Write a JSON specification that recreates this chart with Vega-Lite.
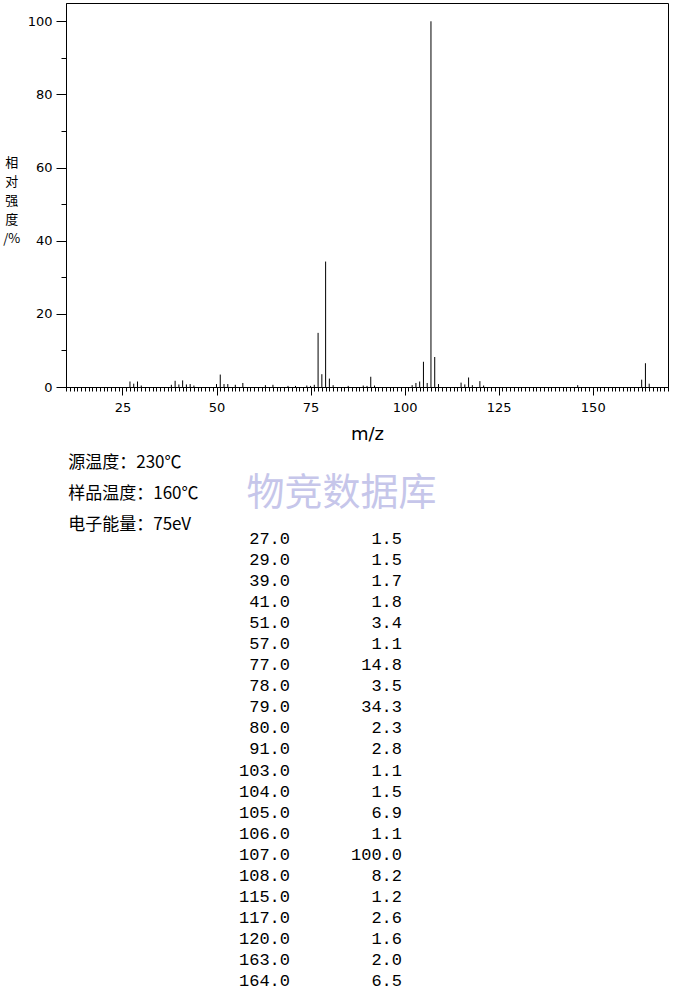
{
  "$schema": "https://vega.github.io/schema/vega-lite/v6.json",
  "padding": {"left": 2, "top": 2, "right": 5, "bottom": 3},
  "spacing": 14,
  "bounds": "flush",
  "datasets": {
    "spectrum": [
      {"mz": 27, "intensity": 1.5, "listed": true},
      {"mz": 28, "intensity": 0.9, "listed": false},
      {"mz": 29, "intensity": 1.5, "listed": true},
      {"mz": 30, "intensity": 0.4, "listed": false},
      {"mz": 38, "intensity": 0.6, "listed": false},
      {"mz": 39, "intensity": 1.7, "listed": true},
      {"mz": 40, "intensity": 0.7, "listed": false},
      {"mz": 41, "intensity": 1.8, "listed": true},
      {"mz": 42, "intensity": 0.7, "listed": false},
      {"mz": 43, "intensity": 0.8, "listed": false},
      {"mz": 44, "intensity": 0.4, "listed": false},
      {"mz": 50, "intensity": 0.8, "listed": false},
      {"mz": 51, "intensity": 3.4, "listed": true},
      {"mz": 52, "intensity": 0.8, "listed": false},
      {"mz": 53, "intensity": 0.8, "listed": false},
      {"mz": 55, "intensity": 0.6, "listed": false},
      {"mz": 57, "intensity": 1.1, "listed": true},
      {"mz": 63, "intensity": 0.5, "listed": false},
      {"mz": 65, "intensity": 0.6, "listed": false},
      {"mz": 69, "intensity": 0.3, "listed": false},
      {"mz": 71, "intensity": 0.3, "listed": false},
      {"mz": 74, "intensity": 0.4, "listed": false},
      {"mz": 75, "intensity": 0.3, "listed": false},
      {"mz": 76, "intensity": 0.6, "listed": false},
      {"mz": 77, "intensity": 14.8, "listed": true},
      {"mz": 78, "intensity": 3.5, "listed": true},
      {"mz": 79, "intensity": 34.3, "listed": true},
      {"mz": 80, "intensity": 2.3, "listed": true},
      {"mz": 81, "intensity": 0.5, "listed": false},
      {"mz": 85, "intensity": 0.3, "listed": false},
      {"mz": 89, "intensity": 0.4, "listed": false},
      {"mz": 90, "intensity": 0.3, "listed": false},
      {"mz": 91, "intensity": 2.8, "listed": true},
      {"mz": 92, "intensity": 0.4, "listed": false},
      {"mz": 102, "intensity": 0.5, "listed": false},
      {"mz": 103, "intensity": 1.1, "listed": true},
      {"mz": 104, "intensity": 1.5, "listed": true},
      {"mz": 105, "intensity": 6.9, "listed": true},
      {"mz": 106, "intensity": 1.1, "listed": true},
      {"mz": 107, "intensity": 100.0, "listed": true},
      {"mz": 108, "intensity": 8.2, "listed": true},
      {"mz": 109, "intensity": 0.8, "listed": false},
      {"mz": 115, "intensity": 1.2, "listed": true},
      {"mz": 116, "intensity": 0.7, "listed": false},
      {"mz": 117, "intensity": 2.6, "listed": true},
      {"mz": 118, "intensity": 0.5, "listed": false},
      {"mz": 120, "intensity": 1.6, "listed": true},
      {"mz": 121, "intensity": 0.4, "listed": false},
      {"mz": 146, "intensity": 0.5, "listed": false},
      {"mz": 163, "intensity": 2.0, "listed": true},
      {"mz": 164, "intensity": 6.5, "listed": true},
      {"mz": 165, "intensity": 0.9, "listed": false}
    ],
    "conditions": [
      {"line": 1, "col": "info", "kind": "condition", "text": "源温度：230℃"},
      {"line": 2, "col": "info", "kind": "condition", "text": "样品温度：160℃"},
      {"line": 3, "col": "info", "kind": "condition", "text": "电子能量：75eV"},
      {"line": 2, "col": "intensity", "kind": "watermark", "text": "物竞数据库"}
    ]
  },
  "vconcat": [
    {
      "width": 602,
      "height": 384,
      "data": {"name": "spectrum"},
      "mark": {"type": "rule", "color": "black", "strokeWidth": 1},
      "encoding": {
        "x": {
          "field": "mz",
          "type": "quantitative",
          "scale": {"domain": [10, 170], "nice": false, "zero": false},
          "axis": {
            "title": "m/z",
            "titleFontSize": 18,
            "titlePadding": 11,
            "values": [10,11,12,13,14,15,16,17,18,19,20,21,22,23,24,25,26,27,28,29,30,31,32,33,34,35,36,37,38,39,40,41,42,43,44,45,46,47,48,49,50,51,52,53,54,55,56,57,58,59,60,61,62,63,64,65,66,67,68,69,70,71,72,73,74,75,76,77,78,79,80,81,82,83,84,85,86,87,88,89,90,91,92,93,94,95,96,97,98,99,100,101,102,103,104,105,106,107,108,109,110,111,112,113,114,115,116,117,118,119,120,121,122,123,124,125,126,127,128,129,130,131,132,133,134,135,136,137,138,139,140,141,142,143,144,145,146,147,148,149,150,151,152,153,154,155,156,157,158,159,160,161,162,163,164,165,166,167,168,169,170],
            "labelExpr": "datum.value % 25 === 0 ? datum.label : ''",
            "tickSize": {"condition": {"test": "datum.value % 25 === 0", "value": 8}, "value": 4},
            "labelPadding": 6,
            "labelOverlap": false,
            "labelFlush": false,
            "labelBound": false
          }
        },
        "y": {
          "field": "intensity",
          "type": "quantitative",
          "scale": {"domain": [0, 105], "nice": false},
          "axis": {
            "title": ["相", "对", "强", "度", "/%"],
            "titleAngle": 0,
            "titleFont": "Noto Sans CJK SC",
            "titleFontSize": 13,
            "titleLineHeight": 19,
            "titleAlign": "center",
            "titleBaseline": "middle",
            "titlePadding": -60,
            "titleY": 159,
            "values": [0, 10, 20, 30, 40, 50, 60, 70, 80, 90, 100],
            "labelExpr": "datum.value % 20 === 0 ? datum.label : ''",
            "tickSize": {"condition": {"test": "datum.value % 20 === 0", "value": 10}, "value": 5},
            "labelPadding": 4,
            "labelOverlap": false,
            "labelFlush": false,
            "labelBound": false
          }
        },
        "y2": {"datum": 0}
      }
    },
    {
      "width": 336,
      "height": 123.5,
      "view": {"stroke": null},
      "data": {"name": "conditions"},
      "layer": [
        {
          "transform": [{"filter": "datum.kind === 'watermark'"}],
          "mark": {"type": "text", "align": "center", "baseline": "middle", "font": "Noto Sans CJK SC", "fontSize": 38, "color": "#c6c6ea"},
          "encoding": {
            "x": {"field": "col", "type": "nominal", "bandPosition": 0.46, "scale": {"type": "band", "domain": ["info", "mz", "intensity"], "paddingInner": 0, "paddingOuter": 0}, "axis": null},
            "y": {"field": "line", "type": "ordinal", "scale": {"type": "point", "domain": [1, 2, 3], "padding": 0.992, "align": 1}, "axis": null},
            "text": {"field": "text"}
          }
        },
        {
          "transform": [{"filter": "datum.kind === 'condition'"}],
          "mark": {"type": "text", "align": "left", "baseline": "middle", "font": "Noto Sans CJK SC", "fontSize": 17, "color": "black"},
          "encoding": {
            "x": {"field": "col", "type": "nominal", "bandPosition": 0.02, "scale": {"type": "band", "domain": ["info", "mz", "intensity"], "paddingInner": 0, "paddingOuter": 0}, "axis": null},
            "y": {"field": "line", "type": "ordinal", "scale": {"type": "point", "domain": [1, 2, 3], "padding": 0.992, "align": 1}, "axis": null},
            "text": {"field": "text"}
          }
        }
      ]
    },
    {
      "width": 336,
      "height": 442,
      "view": {"stroke": null},
      "data": {"name": "spectrum"},
      "transform": [
        {"filter": "datum.listed"},
        {"fold": ["mz", "intensity"], "as": ["col", "value"]}
      ],
      "mark": {"type": "text", "align": "right", "baseline": "middle", "font": "Liberation Mono", "fontSize": 17, "color": "black"},
      "encoding": {
        "x": {"field": "col", "type": "nominal", "bandPosition": 1, "scale": {"type": "band", "domain": ["info", "mz", "intensity"], "paddingInner": 0, "paddingOuter": 0}, "axis": null},
        "y": {"field": "mz", "type": "ordinal", "scale": {"type": "point", "padding": 0}, "axis": null},
        "text": {"field": "value", "type": "quantitative", "format": ".1f"}
      }
    }
  ],
  "config": {
    "font": "DejaVu Sans",
    "view": {"stroke": "black", "strokeWidth": 1},
    "axis": {
      "grid": false,
      "domainColor": "black",
      "domainWidth": 1,
      "tickColor": "black",
      "tickWidth": 1,
      "labelColor": "black",
      "labelFont": "DejaVu Sans",
      "labelFontSize": 13,
      "titleColor": "black",
      "titleFont": "DejaVu Sans",
      "titleFontWeight": "normal"
    }
  }
}
